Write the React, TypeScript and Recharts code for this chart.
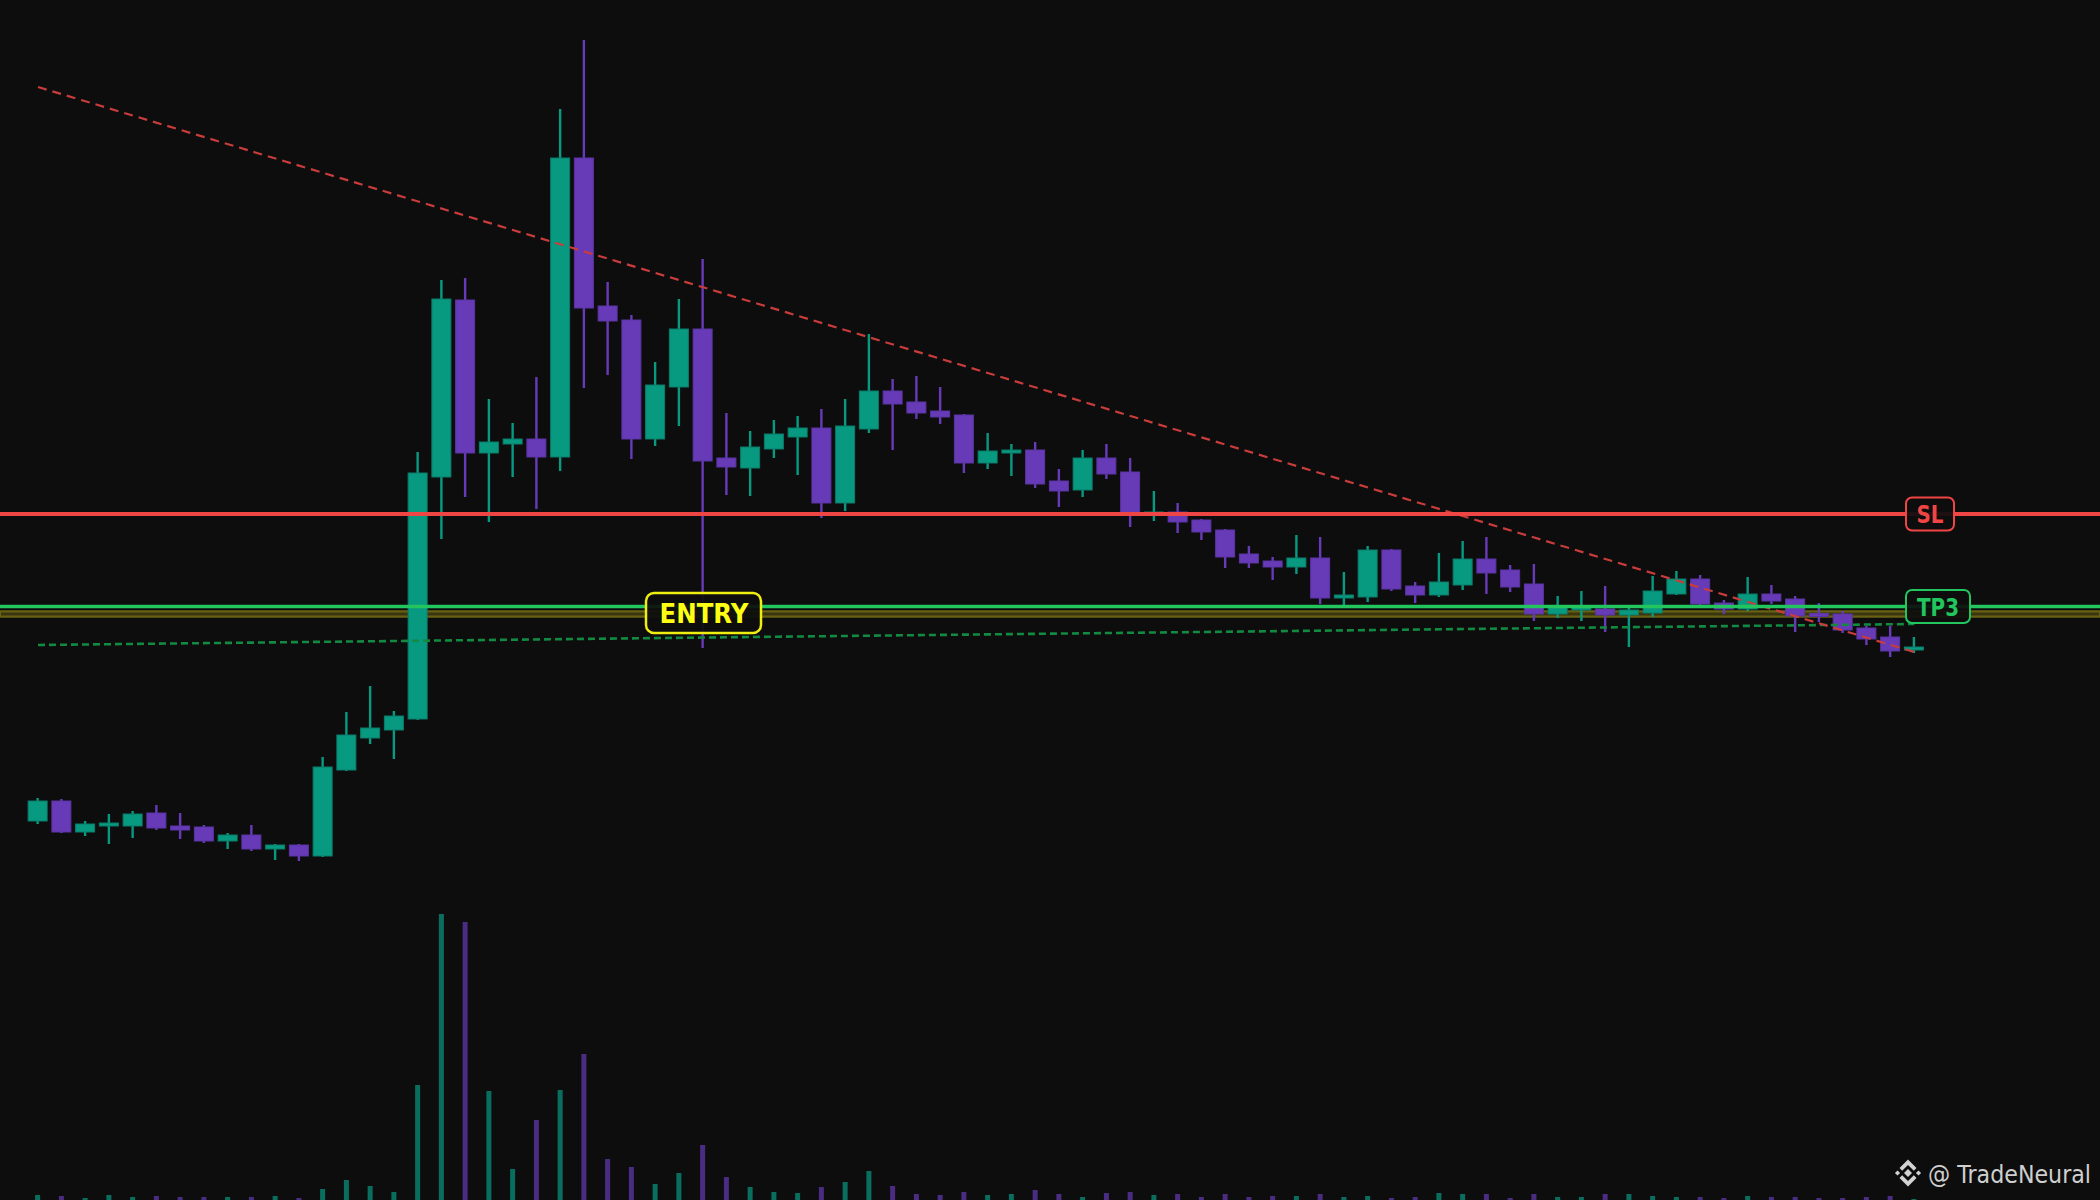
import { ComposedChart, Bar, Cell, XAxis, YAxis, ReferenceLine, ReferenceArea, ReferenceDot } from 'recharts'

// OHLC (80 candles), prices in arbitrary units
const opens = [
  0.379, 0.399, 0.368, 0.374, 0.374, 0.387, 0.374, 0.373, 0.359, 0.365, 0.351, 0.355,
  0.344, 0.43, 0.462, 0.47, 0.481, 0.723, 0.9, 0.747, 0.756, 0.761, 0.743, 1.042,
  0.894, 0.88, 0.761, 0.813, 0.871, 0.742, 0.732, 0.751, 0.763, 0.772, 0.697, 0.771,
  0.809, 0.798, 0.789, 0.785, 0.737, 0.747, 0.75, 0.719, 0.71, 0.742, 0.728, 0.685,
  0.688, 0.68, 0.67, 0.646, 0.639, 0.633, 0.642, 0.602, 0.603, 0.65, 0.614, 0.605,
  0.615, 0.641, 0.63, 0.616, 0.586, 0.59, 0.591, 0.585, 0.587, 0.606, 0.621, 0.597,
  0.591, 0.606, 0.601, 0.586, 0.586, 0.572, 0.563, 0.55,
]
const highs = [
  0.402, 0.401, 0.379, 0.386, 0.389, 0.395, 0.387, 0.375, 0.367, 0.375, 0.356, 0.356,
  0.443, 0.488, 0.514, 0.489, 0.748, 0.92, 0.922, 0.801, 0.777, 0.823, 1.091, 1.16,
  0.918, 0.885, 0.838, 0.901, 0.941, 0.787, 0.769, 0.78, 0.784, 0.791, 0.801, 0.866,
  0.821, 0.824, 0.813, 0.786, 0.767, 0.756, 0.758, 0.731, 0.75, 0.756, 0.742, 0.709,
  0.697, 0.681, 0.671, 0.654, 0.643, 0.665, 0.663, 0.628, 0.654, 0.651, 0.618, 0.647,
  0.659, 0.663, 0.635, 0.636, 0.604, 0.609, 0.614, 0.592, 0.624, 0.629, 0.625, 0.6,
  0.623, 0.615, 0.604, 0.597, 0.589, 0.574, 0.574, 0.563,
]
const lows = [
  0.376, 0.367, 0.364, 0.356, 0.362, 0.37, 0.361, 0.357, 0.351, 0.349, 0.34, 0.339,
  0.343, 0.429, 0.456, 0.441, 0.48, 0.661, 0.703, 0.678, 0.723, 0.691, 0.729, 0.812,
  0.825, 0.741, 0.754, 0.774, 0.552, 0.705, 0.704, 0.742, 0.725, 0.682, 0.689, 0.767,
  0.75, 0.781, 0.776, 0.727, 0.731, 0.724, 0.712, 0.693, 0.703, 0.721, 0.673, 0.679,
  0.667, 0.66, 0.632, 0.632, 0.62, 0.626, 0.596, 0.595, 0.598, 0.609, 0.597, 0.603,
  0.61, 0.606, 0.608, 0.579, 0.582, 0.579, 0.568, 0.553, 0.583, 0.605, 0.595, 0.586,
  0.589, 0.596, 0.568, 0.578, 0.567, 0.555, 0.543, 0.547,
]
const closes = [
  0.399, 0.368, 0.376, 0.377, 0.386, 0.372, 0.37, 0.359, 0.365, 0.351, 0.355, 0.344,
  0.433, 0.465, 0.472, 0.484, 0.727, 0.901, 0.747, 0.758, 0.761, 0.743, 1.042, 0.892,
  0.879, 0.761, 0.815, 0.871, 0.739, 0.733, 0.753, 0.766, 0.772, 0.697, 0.774, 0.809,
  0.796, 0.787, 0.783, 0.737, 0.749, 0.75, 0.716, 0.709, 0.742, 0.726, 0.686, 0.688,
  0.678, 0.668, 0.643, 0.637, 0.633, 0.642, 0.602, 0.605, 0.65, 0.611, 0.605, 0.618,
  0.641, 0.627, 0.613, 0.586, 0.593, 0.593, 0.585, 0.59, 0.609, 0.621, 0.596, 0.591,
  0.606, 0.599, 0.584, 0.584, 0.57, 0.561, 0.549, 0.553,
]
const volumes = [
  5000, 4000, 2000, 5000, 3000, 4000, 3000, 3000, 3000, 3000, 4000, 2000,
  11000, 20000, 14000, 8000, 115000, 286000, 278000, 109000, 31000, 80000, 110000, 146000,
  41000, 33000, 16000, 27000, 55000, 23000, 13000, 8000, 7000, 13000, 18000, 29000,
  14000, 6000, 5000, 8000, 5000, 6000, 10000, 6000, 3000, 7000, 8000, 5000,
  6000, 3000, 6000, 3000, 4000, 4000, 6000, 3000, 4000, 2000, 3000, 7000,
  6000, 6000, 2000, 6000, 3000, 3000, 6000, 6000, 4000, 3000, 3000, 2000,
  4000, 3000, 3000, 2000, 2000, 3000, 4000, 1000,
]

// trade levels
const SL_PRICE = 0.686
const TP3_PRICE = 0.5935
const ENTRY_PRICE = 0.587
const ENTRY_INDEX = 28
const ENTRY_ZONE = [0.582, 0.59]
const RESISTANCE = [
  { x: 0, y: 1.113 },
  { x: 79, y: 0.548 },
]
const SUPPORT = [
  { x: 0, y: 0.555 },
  { x: 79, y: 0.576 },
]

const UP = '#089981'
const DOWN = '#673ab7'
const BG = '#0d0d0d'

const data = opens.map((open, i) => ({
  i,
  open,
  high: highs[i],
  low: lows[i],
  close: closes[i],
  volume: volumes[i],
}))

const Candle = (props: any) => {
  const { x, y, width, height, payload } = props
  const { open, close, high, low } = payload
  const top = Math.min(y, y + height)
  const h = Math.abs(height)
  const toY = (v: number) => top + ((high - v) / (high - low || 1)) * h
  const cx = x + width / 2
  const up = close >= open
  const yo = toY(open)
  const yc = toY(close)
  let bodyTop = Math.min(yo, yc)
  let bodyH = Math.abs(yc - yo)
  if (bodyH < 3) {
    bodyTop = (yo + yc) / 2 - 1.5
    bodyH = 3
  }
  return (
    <g>
      <rect x={cx - 1.2} y={top} width={2.4} height={h} fill={up ? UP : DOWN} />
      <rect
        x={x}
        y={bodyTop}
        width={width}
        height={bodyH}
        fill={up ? UP : DOWN}
        stroke={up ? '#0b7d69' : '#5b34a3'}
        strokeWidth={1}
      />
    </g>
  )
}

const BoxLabel = ({ viewBox, text, color, w, textW }: any) => {
  const left = 1906
  const cy = viewBox.y
  return (
    <g>
      <rect x={left} y={cy - 16.5} width={w} height={33} rx={6} fill={BG} fillOpacity={0.92} stroke={color} strokeWidth={2} />
      <text
        x={left + w / 2}
        y={cy + 1}
        textAnchor="middle"
        dominantBaseline="central"
        fill={color}
        fontFamily="DejaVu Sans"
        fontWeight="bold"
        fontSize={24}
        textLength={textW}
        lengthAdjust="spacingAndGlyphs"
      >
        {text}
      </text>
    </g>
  )
}

const EntryBox = ({ cx, cy }: any) => (
  <g>
    <rect x={cx - 57} y={cy - 20} width={115} height={40} rx={8} fill={BG} fillOpacity={0.92} stroke="#eeee10" strokeWidth={2.5} />
    <text
      x={cx + 1}
      y={cy + 1}
      textAnchor="middle"
      dominantBaseline="central"
      fill="#ffff14"
      fontFamily="DejaVu Sans"
      fontWeight="bold"
      fontSize={26}
      textLength={89}
      lengthAdjust="spacingAndGlyphs"
    >
      ENTRY
    </text>
  </g>
)

const Watermark = () => (
  <svg width={2100} height={1200} style={{ position: 'absolute', left: 0, top: 0, pointerEvents: 'none' }}>
    <g transform="translate(1908,1173)" fill="#d2d2d2">
      <polygon points="0,-4 4,0 0,4 -4,0" />
      <polygon points="-10.5,-2.6 -7.9,0 -10.5,2.6 -13.1,0" />
      <polygon points="10.5,-2.6 13.1,0 10.5,2.6 7.9,0" />
      <polygon points="0,-13.5 8.5,-5 5.8,-2.3 0,-8.1 -5.8,-2.3 -8.5,-5" />
      <polygon points="0,13.5 8.5,5 5.8,2.3 0,8.1 -5.8,2.3 -8.5,5" />
    </g>
    <text
      x={1928}
      y={1183}
      fill="#cfcfcf"
      fontFamily="DejaVu Sans"
      fontSize={25}
      textLength={163}
      lengthAdjust="spacingAndGlyphs"
    >
      @ TradeNeural
    </text>
  </svg>
)

export default function App() {
  return (
    <div style={{ position: 'fixed', left: 0, top: 0, width: 2100, height: 1200, background: BG }}>
      <ComposedChart width={2100} height={1200} data={data} margin={{ top: 0, right: 0, bottom: 0, left: 0 }}>
        <XAxis xAxisId="px" dataKey="i" type="number" domain={[-1.6, 86.82]} hide />
        <XAxis xAxisId="vx" dataKey="i" type="number" domain={[-1.6, 86.82]} hide />
        <YAxis yAxisId="p" type="number" domain={[0, 1.2]} hide />
        <YAxis yAxisId="v" type="number" domain={[0, 1200000]} hide />

        <Bar xAxisId="vx" yAxisId="v" dataKey="volume" barSize={5} isAnimationActive={false}>
          {data.map((d) => (
            <Cell key={d.i} fill={d.close >= d.open ? UP : DOWN} fillOpacity={0.7} />
          ))}
        </Bar>
        <Bar
          xAxisId="px"
          yAxisId="p"
          dataKey={(d: any) => [d.low, d.high]}
          barSize={19}
          shape={<Candle />}
          isAnimationActive={false}
        />

        <ReferenceArea xAxisId="px" yAxisId="p" y1={ENTRY_ZONE[0]} y2={ENTRY_ZONE[1]} fill="#d4c81a" fillOpacity={0.22} stroke="none" />
        <ReferenceArea xAxisId="px" yAxisId="p" y1={ENTRY_ZONE[0] + 0.0015} y2={ENTRY_ZONE[1] - 0.0015} fill="none" stroke="#d4c81a" strokeOpacity={0.3} strokeWidth={2} />

        <ReferenceLine xAxisId="px" yAxisId="p" segment={SUPPORT} stroke="#138a42" strokeWidth={2.6} strokeDasharray="7 4" />
        <ReferenceLine xAxisId="px" yAxisId="p" segment={RESISTANCE} stroke="#c93c3c" strokeWidth={2.2} strokeDasharray="9 6" />

        <ReferenceLine
          xAxisId="px"
          yAxisId="p"
          y={TP3_PRICE}
          stroke="#22c55e"
          strokeWidth={3.5}
          label={<BoxLabel text="TP3" color="#22c55e" w={64} textW={42} />}
        />
        <ReferenceLine
          xAxisId="px"
          yAxisId="p"
          y={SL_PRICE}
          stroke="#f04545"
          strokeWidth={4}
          label={<BoxLabel text="SL" color="#f04545" w={48} textW={27} />}
        />
        <ReferenceDot
          xAxisId="px"
          yAxisId="p"
          x={ENTRY_INDEX}
          y={ENTRY_PRICE}
          r={0}
          shape={(p: any) => <EntryBox cx={p.cx} cy={p.cy} />}
        />
      </ComposedChart>
      <Watermark />
    </div>
  )
}
